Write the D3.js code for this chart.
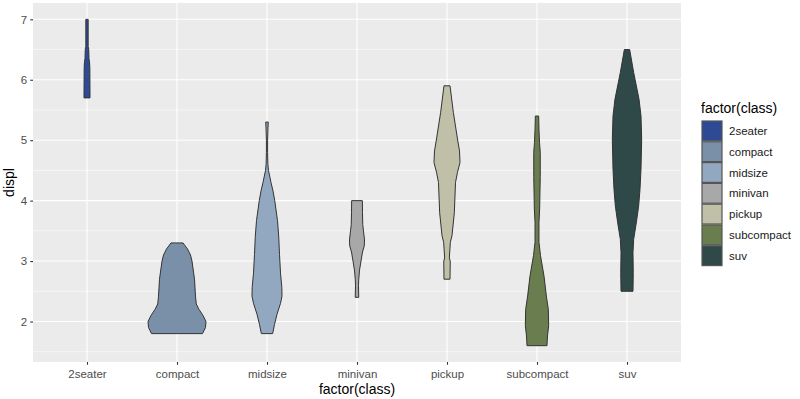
<!DOCTYPE html>
<html><head><meta charset="utf-8">
<script src="https://cdn.jsdelivr.net/npm/d3@7"></script>
<style>body{margin:0;background:#fff}svg{display:block;font-family:"Liberation Sans",Arial,sans-serif}</style>
</head><body><svg id="c" width="800" height="399"></svg>
<script>
// categories and colours
const classes = ["2seater","compact","midsize","minivan","pickup","subcompact","suv"];
const fills = ["#2F4A94","#7A90A8","#91A8C0","#A8A8A8","#C0C0A8","#6A7D4F","#2F4848"];
const yTicks = [2,3,4,5,6,7];
const displRange = [1.6, 7.0];
// violin profiles: [displ, full width in % of category spacing]
const v2seater = [[7.0,2.6],[6.55,2.6],[6.5,3.9],[6.35,4.4],[6.3,5.6],[6.2,6.3],[5.7,6.7]];
const vCompact = [[3.3,13.3],[3.2,23.3],[3.1,30],[3.0,33.3],[2.7,38.9],[2.42,41.1],[2.29,42.8],[2.2,48.9],[2.1,57.8],[2.0,64.4],[1.9,63.3],[1.8,56.7]];
const vMidsize = [[5.3,2.8],[5.2,2.2],[5.0,1.3],[4.8,1.3],[4.6,2.0],[4.5,3.3],[4.3,8.9],[4.16,13.3],[4.0,17.2],[3.67,23.3],[3.4,26.1],[3.11,27.8],[2.8,30],[2.56,33],[2.42,33.3],[2.3,30],[2.12,22.2],[1.95,16.7],[1.8,12.6]];
const vMinivan = [[4.0,11.9],[3.8,12.2],[3.6,12.8],[3.5,14.4],[3.35,16.7],[3.25,16.1],[3.15,12.2],[3.0,8.9],[2.85,5.6],[2.7,3.9],[2.6,3.3],[2.4,3.9]];
const vPickup = [[5.9,6.7],[5.46,14.1],[5.02,23.3],[4.82,27.8],[4.63,28.9],[4.47,23.3],[4.3,18.9],[3.8,16.3],[3.42,11.1],[3.31,7.4],[3.05,5.2],[3.0,7.2],[2.7,6.7]];
const vSubcompact = [[5.4,3.7],[5.18,4.4],[4.96,5.6],[4.8,7.2],[4.4,7.2],[3.86,5.9],[3.64,4.4],[3.31,4.4],[3.09,7.8],[2.75,15.6],[2.42,20.8],[2.2,25.2],[1.93,25.9],[1.76,23.3],[1.6,22.2]];
const vSuv = [[6.5,5.9],[6.12,14.8],[5.68,26.7],[5.4,31.1],[5.02,32.6],[4.52,31.1],[4.19,28.9],[3.91,25.9],[3.64,20.8],[3.36,14.8],[3.14,13.3],[2.81,13.9],[2.5,13.3]];
const profiles = [v2seater,vCompact,vMidsize,vMinivan,vPickup,vSubcompact,vSuv];

const svg = d3.select("#c");
const P = {l:33, t:3, r:681, b:362};
const span = displRange[1]-displRange[0];
const y = d3.scaleLinear().domain([displRange[0]-0.05*span, displRange[1]+0.05*span]).range([P.b, P.t]);
const x = d3.scalePoint().domain(classes).range([P.l, P.r]).padding(0.6);
const w = d3.scaleLinear().domain([0,100]).range([0, x.step()]);
const color = d3.scaleOrdinal().domain(classes).range(fills);

svg.append("rect").attr("x",P.l).attr("y",P.t).attr("width",P.r-P.l).attr("height",P.b-P.t).attr("fill","#EBEBEB");
const g = svg.append("g");
// minor grid
yTicks.slice(0,-1).map(t=>t+0.5).concat([yTicks[0]-0.5]).forEach(t=>{
  g.append("line").attr("x1",P.l).attr("x2",P.r).attr("y1",y(t)).attr("y2",y(t)).attr("stroke","#fff").attr("stroke-width",0.55);
});
yTicks.forEach(t=>{
  g.append("line").attr("x1",P.l).attr("x2",P.r).attr("y1",y(t)).attr("y2",y(t)).attr("stroke","#fff").attr("stroke-width",1.1);
});
classes.forEach(c=>{
  g.append("line").attr("x1",x(c)).attr("x2",x(c)).attr("y1",P.t).attr("y2",P.b).attr("stroke","#fff").attr("stroke-width",1.1);
});

// violins
classes.forEach((c,i)=>{
  const cx = x(c);
  const area = d3.area().y(d=>y(d[0])).x0(d=>cx - w(d[1])/2).x1(d=>cx + w(d[1])/2);
  svg.append("path").attr("d",area(profiles[i])).attr("fill",color(c)).attr("stroke","#333333").attr("stroke-width",1);
});

// axes
const ya = svg.append("g").attr("transform",`translate(${P.l},0)`).call(d3.axisLeft(y).tickValues(yTicks).tickSize(2.75).tickPadding(3).tickFormat(d3.format("d")));
const xa = svg.append("g").attr("transform",`translate(0,${P.b})`).call(d3.axisBottom(x).tickSize(2.75).tickPadding(3));
[ya,xa].forEach(a=>{
  a.select(".domain").remove();
  a.selectAll("line").attr("stroke","#333333").attr("stroke-width",1.1);
  a.selectAll("text").attr("fill","#4D4D4D").style("font-size","11.5px").style("font-family","Liberation Sans, Arial, sans-serif");
});
xa.selectAll("text").attr("dy","0.9em");

svg.append("text").attr("x",(P.l+P.r)/2).attr("y",394).attr("text-anchor","middle").style("font-size","14px").attr("fill","#000").text("factor(class)");
svg.append("text").attr("transform",`translate(14,${(P.t+P.b)/2}) rotate(-90)`).attr("text-anchor","middle").style("font-size","14px").attr("fill","#000").text("displ");

// legend
const L = svg.append("g").attr("transform","translate(701,0)");
L.append("text").attr("x",0).attr("y",113).style("font-size","14px").attr("fill","#000").text("factor(class)");
const keyStep = 20.8;
classes.forEach((c,i)=>{
  const ky = 121 + i*keyStep;
  L.append("rect").attr("x",1).attr("y",ky).attr("width",20).attr("height",keyStep-1).attr("fill",color(c)).attr("stroke","#555").attr("stroke-width",1.2);
  L.append("text").attr("x",28).attr("y",ky+(keyStep-1)/2).attr("dy","0.35em").style("font-size","11.5px").attr("fill","#1A1A1A").text(c);
});
</script></body></html>
